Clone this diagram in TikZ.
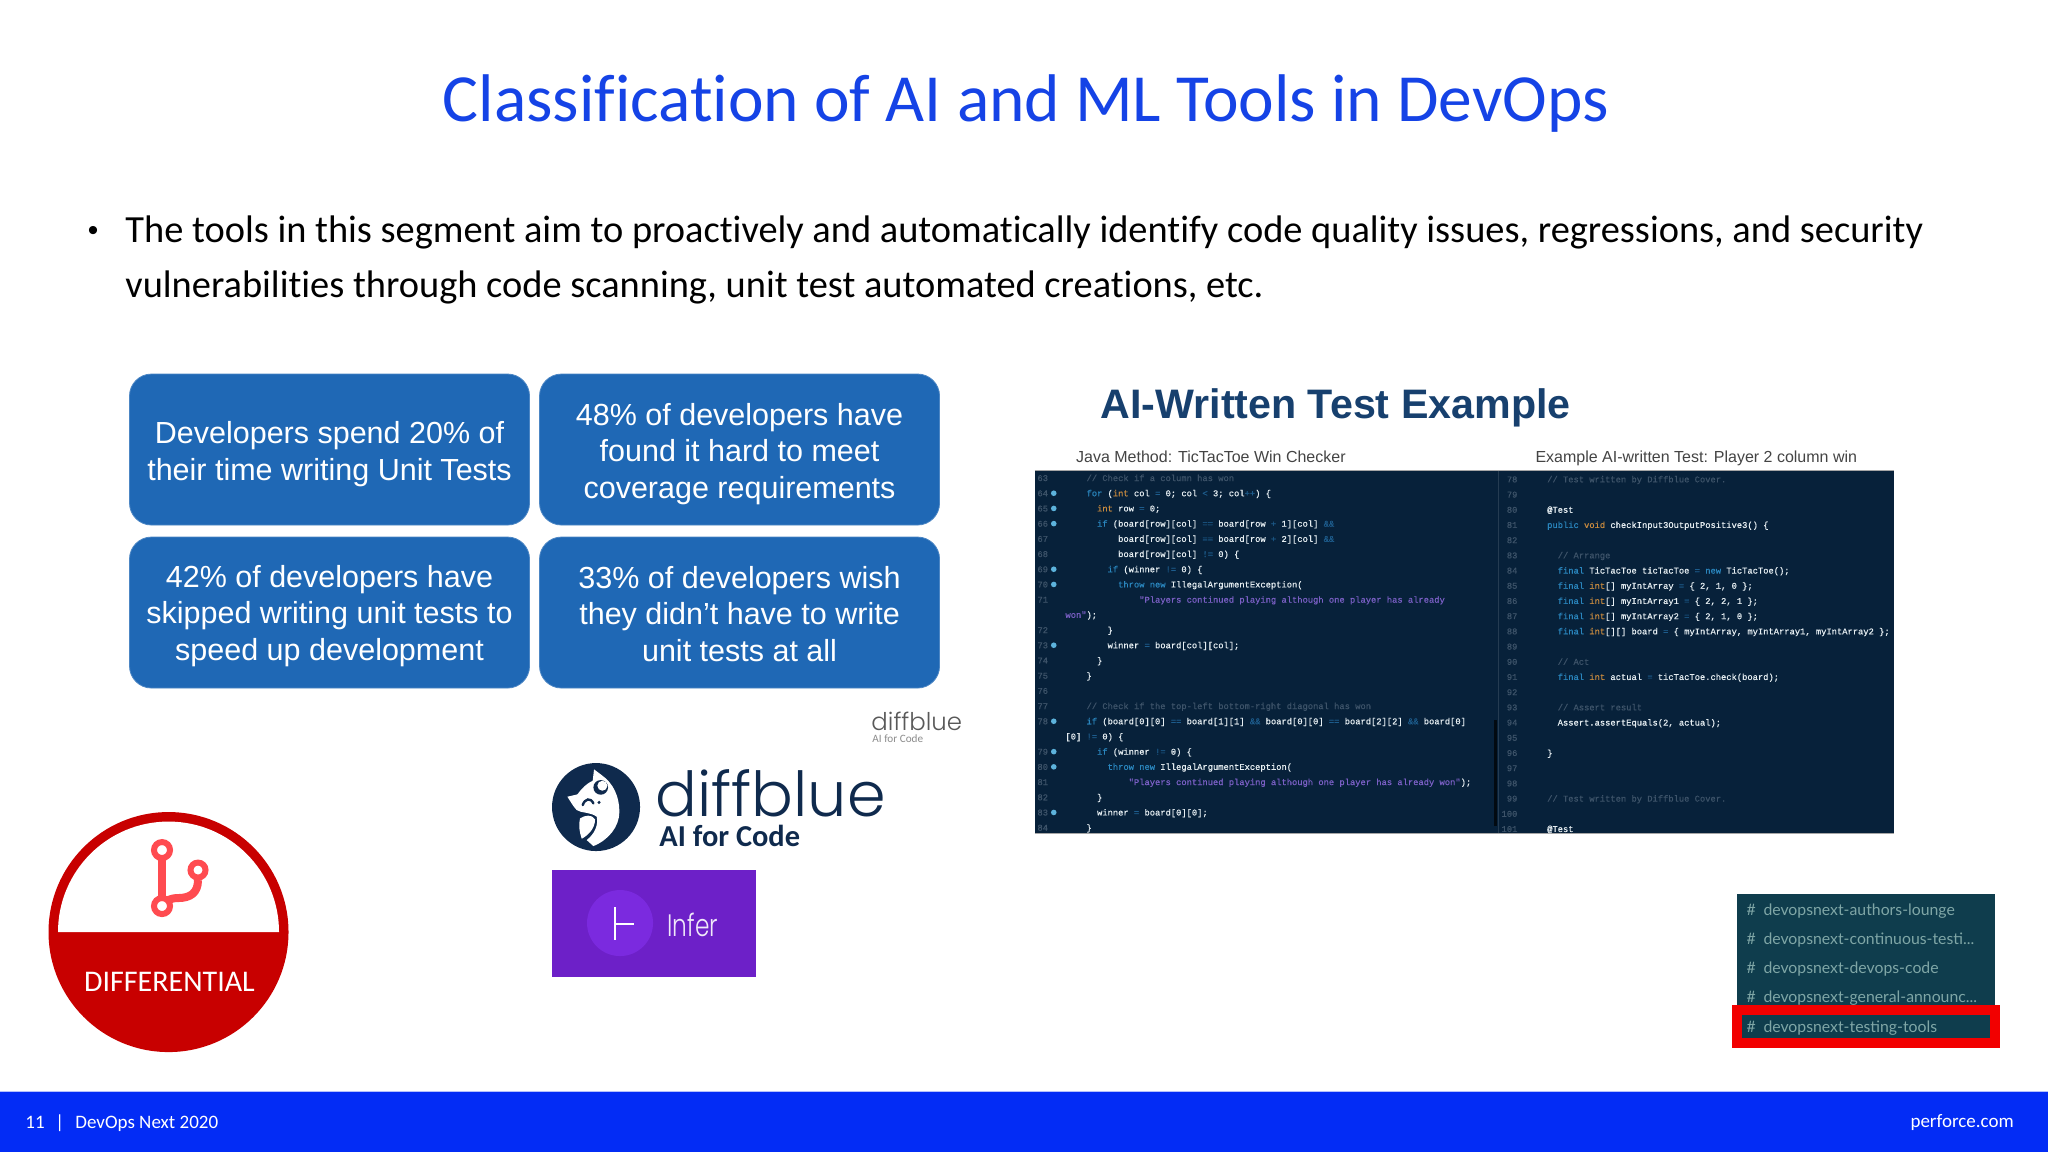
\documentclass[tikz,border=0pt]{standalone}
\usepackage{fontspec}
\setmainfont[Ligatures=NoCommon]{Carlito}
\newfontfamily\arialf{Liberation Sans}
\newfontfamily\monof[FakeBold=0.6]{Liberation Mono}
\newfontfamily\latof{Lato}
\newfontfamily\popf{Poppins Light}
\newfontfamily\inferf[FakeStretch=0.75]{Poppins Light}
\definecolor{titleblue}{HTML}{1543E6}
\definecolor{barblue}{HTML}{032CF5}
\definecolor{boxblue}{HTML}{1F68B5}
\definecolor{panel}{HTML}{07213A}
\definecolor{kwc}{HTML}{2A86BE}
\definecolor{tyc}{HTML}{C98B3F}
\definecolor{plc}{HTML}{E6EEF2}
\definecolor{cmc}{HTML}{3D5369}
\definecolor{stc}{HTML}{7A5FC4}
\definecolor{opc}{HTML}{1D5C8C}
\definecolor{dotc}{HTML}{5DB3DC}
\definecolor{headc}{HTML}{17406E}
\definecolor{subc}{HTML}{444444}
\definecolor{dbc}{HTML}{0F2A4D}
\definecolor{dred}{HTML}{C80000}
\definecolor{icon}{HTML}{FF4B50}
\definecolor{purp}{HTML}{6D20C8}
\definecolor{purpl}{HTML}{7B2ADF}
\definecolor{slack}{HTML}{0F3D4D}
\definecolor{slackt}{HTML}{7FA6A6}
\newcommand\K[1]{\textcolor{kwc}{#1}}
\newcommand\T[1]{\textcolor{tyc}{#1}}
\newcommand\C[1]{\textcolor{cmc}{#1}}
\newcommand\Sx[1]{\textcolor{stc}{#1}}
\newcommand\Ox[1]{\textcolor{opc}{#1}}
\newcommand\threedots{...}
\newcounter{cn}
\newcommand\lline[3]{\stepcounter{cn}\node[codetxt] (lc\arabic{cn}) at ({1065+#1*5.27},{478+#2*15.2+3}) {#3};}
\newcommand\rline[3]{\stepcounter{cn}\node[codetxt] (rc\arabic{cn}) at ({1546.7+#1*5.27},{479.3+#2*15.2+3}) {#3};}
\tikzset{
  x=0.5pt,y=-0.5pt,
  statbox/.style={fill=boxblue,draw=boxblue!80!white,line width=0.4pt,rounded corners=11pt,minimum width=200pt,minimum height=75.5pt,inner sep=0pt},
  statt/.style={text=white,align=center,inner sep=0pt,font=\arialf\fontsize{15.25}{18.25}\selectfont},
  base/.style={inner sep=0pt,anchor=base west},
  codetxt/.style={base,font=\monof\fontsize{4.39}{5}\selectfont,text=plc},
  numtxt/.style={inner sep=0pt,font=\monof\fontsize{4.39}{5}\selectfont,text=cmc},
  slacktxt/.style={base,font=\latof\fontsize{7.9}{9}\selectfont,text=slackt},
}
\begin{document}
\begin{tikzpicture}
\useasboundingbox (0,0) rectangle (2047.9,1151.9);
\fill[white] (0,0) rectangle (2048,1152);
% title and text
\node[inner sep=0pt,anchor=base,text=titleblue,font=\fontsize{33.7}{38}\selectfont] (title) at (1026,121) {Classification of AI and ML Tools in DevOps};
\node[inner sep=0pt,anchor=base,font=\arialf\fontsize{15}{22}\selectfont] (bul) at (93,240) {•};
\node[base,font=\fontsize{19.2}{22}\selectfont] (l1) at (125,242.5) {The tools in this segment aim to proactively and automatically identify code quality issues, regressions, and security};
\node[base,font=\fontsize{19.2}{22}\selectfont] (l2) at (125,297.5) {vulnerabilities through code scanning, unit test automated creations, etc.};
% stat boxes
\node[statbox] (b1) at (329.5,449.5) {};
\node[statbox] (b2) at (739.5,449.5) {};
\node[statbox] (b3) at (329.5,612.5) {};
\node[statbox] (b4) at (739.5,612.5) {};
\node[statt] (t1) at (329.5,454) {Developers spend 20\% of\\their time writing Unit Tests};
\node[statt] (t2) at (739.5,454) {48\% of developers have\\found it hard to meet\\coverage requirements};
\node[statt] (t3) at (329.5,616) {42\% of developers have\\skipped writing unit tests to\\speed up development};
\node[statt] (t4) at (739.5,614) {33\% of developers wish\\they didn’t have to write\\unit tests at all};
% small logo
\node[base,text=black!65,font=\popf\fontsize{12.2}{14}\selectfont] (sd) at (871,730) {diffblue};
\node[base,text=black!45,font=\fontsize{5.6}{6}\selectfont] (sa) at (872,742) {AI for Code};
% AI-written test
\node[base,text=headc,font=\arialf\bfseries\fontsize{20.6}{24}\selectfont] (h) at (1100,418) {AI-Written Test Example};
\node[base,text=subc,font=\arialf\fontsize{8}{10}\selectfont] (s1) at (1075.7,462.7) {Java Method: TicTacToe Win Checker};
\node[base,text=subc,font=\arialf\fontsize{8}{10}\selectfont] (s2) at (1535,462.7) {Example AI-written Test: Player 2 column win};
\fill[panel] (1034.5,470.7) rectangle (1894,833);
\draw[black!35,line width=0.4pt] (1034.5,470.7) -- (1894,470.7);
\draw[black!35,line width=0.4pt] (1034.5,833) -- (1894,833);
\fill[panel!88!white] (1497.5,471) rectangle (1498.5,833);
\fill[black!70!panel] (1494,720) rectangle (1497,826);
\foreach \r/\n in {0/63,1/64,2/65,3/66,4/67,5/68,6/69,7/70,8/71,10/72,11/73,12/74,13/75,14/76,15/77,16/78,18/79,19/80,20/81,21/82,22/83,23/84}
  \node[numtxt,anchor=base west] (ln\n) at (1037,{478+\r*15.2+3}) {\n};
\foreach \r in {1,2,3,6,7,11,16,18,19,22}
  \fill[dotc] (1053.7,{478+\r*15.2}) circle (2.8);
\foreach \n [count=\r from 0] in {78,...,101}
  \node[numtxt,anchor=base east] (rn\n) at (1517.7,{479.3+\r*15.2+3}) {\n};
\lline{4}{0}{\C{// Check if a column has won}}
\lline{4}{1}{\K{for} (\T{int} col \Ox{=} 0; col \Ox{<} 3; col\Ox{++}) \{}
\lline{6}{2}{\T{int} row \Ox{=} 0;}
\lline{6}{3}{\K{if} (board[row][col] \Ox{==} board[row \Ox{+} 1][col] \Ox{\&\&}}
\lline{10}{4}{board[row][col] \Ox{==} board[row \Ox{+} 2][col] \Ox{\&\&}}
\lline{10}{5}{board[row][col] \Ox{!=} 0) \{}
\lline{8}{6}{\K{if} (winner \Ox{!=} 0) \{}
\lline{10}{7}{\K{throw} \K{new} IllegalArgumentException(}
\lline{14}{8}{\Sx{"Players continued playing although one player has already}}
\lline{0}{9}{\Sx{won"}\textcolor{plc}{);}}
\lline{8}{10}{\}}
\lline{8}{11}{winner \Ox{=} board[col][col];}
\lline{6}{12}{\}}
\lline{4}{13}{\}}
\lline{4}{15}{\C{// Check if the top-left bottom-right diagonal has won}}
\lline{4}{16}{\K{if} (board[0][0] \Ox{==} board[1][1] \Ox{\&\&} board[0][0] \Ox{==} board[2][2] \Ox{\&\&} board[0]}
\lline{0}{17}{[0] \Ox{!=} 0) \{}
\lline{6}{18}{\K{if} (winner \Ox{!=} 0) \{}
\lline{8}{19}{\K{throw} \K{new} IllegalArgumentException(}
\lline{12}{20}{\Sx{"Players continued playing although one player has already won"});}
\lline{6}{21}{\}}
\lline{6}{22}{winner \Ox{=} board[0][0];}
\lline{4}{23}{\}}
\rline{0}{0}{\C{// Test written by Diffblue Cover.}}
\rline{0}{2}{@Test}
\rline{0}{3}{\K{public} \T{void} checkInput3OutputPositive3() \{}
\rline{2}{5}{\C{// Arrange}}
\rline{2}{6}{\K{final} TicTacToe ticTacToe \Ox{=} \K{new} TicTacToe();}
\rline{2}{7}{\K{final} \T{int}[] myIntArray \Ox{=} \{ 2, 1, 0 \};}
\rline{2}{8}{\K{final} \T{int}[] myIntArray1 \Ox{=} \{ 2, 2, 1 \};}
\rline{2}{9}{\K{final} \T{int}[] myIntArray2 \Ox{=} \{ 2, 1, 0 \};}
\rline{2}{10}{\K{final} \T{int}[][] board \Ox{=} \{ myIntArray, myIntArray1, myIntArray2 \};}
\rline{2}{12}{\C{// Act}}
\rline{2}{13}{\K{final} \T{int} actual \Ox{=} ticTacToe.check(board);}
\rline{2}{15}{\C{// Assert result}}
\rline{2}{16}{Assert.assertEquals(2, actual);}
\rline{0}{18}{\}}
\rline{0}{21}{\C{// Test written by Diffblue Cover.}}
\rline{0}{23}{@Test}
% diffblue logo
\fill[dbc] (596,807) circle (44);
\begin{scope}[shift={(540,750)},x=0.1667pt,y=-0.1667pt]
\fill[white] (82,140) -- (112,133) .. controls (125,115) and (140,100) .. (158,92) -- (162,58) -- (186,76) .. controls (220,100) and (238,140) .. (238,185) .. controls (238,230) and (205,270) .. (160,288) -- (140,270) .. controls (165,250) and (175,225) .. (170,200) .. controls (150,185) and (125,190) .. (110,180) .. controls (100,170) and (92,155) .. cycle;
\fill[white] (120,205) .. controls (135,195) and (155,192) .. (165,208) .. controls (165,235) and (145,255) .. (125,266) .. controls (118,245) and (115,225) .. cycle;
\fill[dbc] (182,112) circle (22);
\fill[white] (187,107) circle (15);
\draw[dbc,line width=1.2pt,line cap=round] (128,165) .. controls (135,145) and (152,142) .. (160,160);
\fill[dbc] (177,157) circle (5);
\end{scope}
\node[base,text=dbc,font=\popf\fontsize{31}{36}\selectfont] (bd) at (655,816) {diffblue};
\node[base,text=dbc,font=\bfseries\fontsize{15.2}{18}\selectfont] (ba) at (659,846) {AI for Code};
% infer
\fill[purp] (551.5,870) rectangle (756,977);
\fill[purpl] (620,923) circle (33);
\draw[white,line width=0.9pt] (615,907) -- (615,940);
\draw[white,line width=0.9pt] (615,924) -- (634,924);
\node[base,text=white!90!purp,font=\inferf\fontsize{15.5}{18}\selectfont] (inf) at (667,936) {Infer};
% differential badge
\fill[dred] (168.5,932) circle (120);
\fill[white] (58,932) arc[start angle=180,end angle=360,radius=110.5] -- cycle;
\draw[icon,line width=4pt] (162,860) -- (162,896);
\draw[icon,line width=4pt] (198,880) .. controls (198,893) and (190,898) .. (178,898) .. controls (170,898) and (166,901) .. (162,904);
\draw[icon,line width=3pt,fill=white] (162,850) circle (8);
\draw[icon,line width=3pt,fill=white] (198,870) circle (7.5);
\draw[icon,line width=3pt,fill=white] (162,906) circle (8);
\node[inner sep=0pt,anchor=base,text=white,font=\fontsize{15}{18}\selectfont] (dif) at (169.5,991) {DIFFERENTIAL};
% slack
\fill[slack] (1737,894) rectangle (1995,1040);
\foreach \y/\s [count=\i] in {915.5/devopsnext-authors-lounge,944.5/devopsnext-continuous-testi\threedots,973.5/devopsnext-devops-code,1002.5/devopsnext-general-announc\threedots,1032/devopsnext-testing-tools}{
  \node[slacktxt] (sh\i) at (1746,\y) {\#};
  \node[slacktxt] (st\i) at (1763,\y) {\s};
}
\draw[red!95!black,line width=5pt] (1737,1010) rectangle (1995,1043);
% footer
\fill[barblue] (0,1091) rectangle (2048,1152);
\draw[white!70!barblue,line width=0.5pt] (0,1091) -- (2048,1091);
\node[base,text=white,font=\fontsize{9.5}{11}\selectfont] (pg) at (25,1128.5) {11};
\node[base,text=white,font=\fontsize{9.5}{11}\selectfont] (pb) at (55,1128.5) {|};
\node[base,text=white,font=\fontsize{9.5}{11}\selectfont] (ft) at (75,1128.5) {DevOps Next 2020};
\node[inner sep=0pt,anchor=base east,text=white,font=\fontsize{9.5}{11}\selectfont] (pf) at (2014,1127.5) {perforce.com};
\end{tikzpicture}
\end{document}
